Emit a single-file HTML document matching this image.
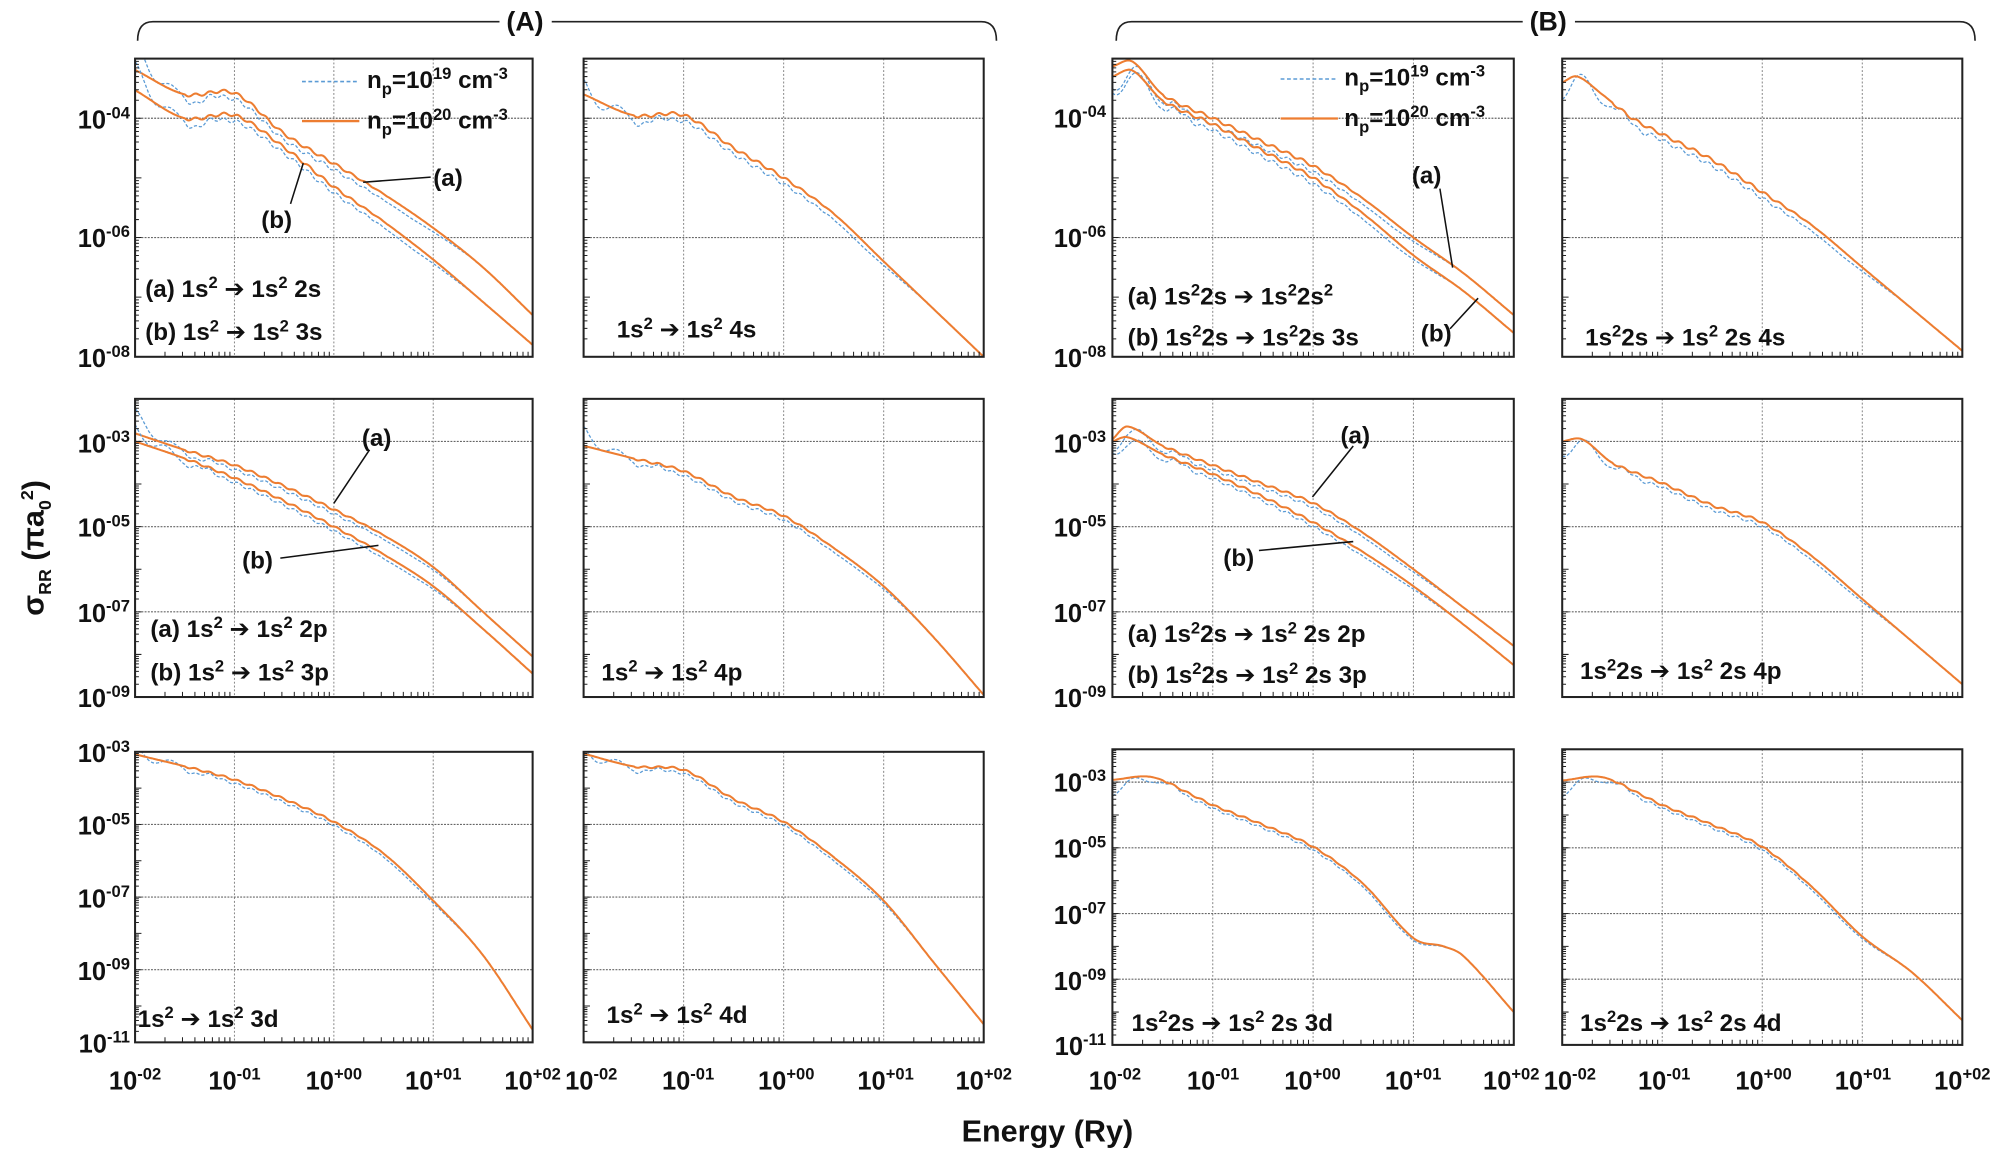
<!DOCTYPE html>
<html><head><meta charset="utf-8"><style>
html,body{margin:0;padding:0;background:#fff;}
svg{display:block;}
text{font-family:"Liberation Sans","DejaVu Sans",sans-serif;font-weight:bold;fill:#111;}
.t{font-size:19px;}
.yl{font-size:20px;text-anchor:end;}
.xl{font-size:20px;text-anchor:middle;}
.an{font-size:19px;}
.lg{font-size:19px;}
.s{font-size:13px;}
</style></head><body>
<svg id="s" width="1998" height="1155" viewBox="0 0 1568 906.4" preserveAspectRatio="none" xmlns="http://www.w3.org/2000/svg">
<g id="grid"></g>
<g id="curves"></g>
<g id="frames"></g>
<path d="M108,32 Q108,17 120,17 L392,17 M433,17 L770,17 Q782,17 782,32" fill="none" stroke="#222" stroke-width="1.3"/>
<text x="412" y="24" style="font-size:21px" text-anchor="middle">(A)</text>
<path d="M876,32 Q876,17 888,17 L1195,17 M1236,17 L1538,17 Q1550,17 1550,32" fill="none" stroke="#222" stroke-width="1.3"/>
<text x="1215" y="24" style="font-size:21px" text-anchor="middle">(B)</text>
<text x="822" y="896" style="font-size:24px" text-anchor="middle">Energy (Ry)</text>
<text transform="translate(34,430) rotate(-90)" style="font-size:24px" text-anchor="middle">σ<tspan dy="6" style="font-size:14px">RR</tspan><tspan dy="-6"> (πa</tspan><tspan dy="6" style="font-size:14px">0</tspan><tspan dy="-14" style="font-size:14px">2</tspan><tspan dy="8">)</tspan></text>
<line x1="237" y1="64" x2="282" y2="64" stroke="#5b9bd5" stroke-width="1.2" stroke-dasharray="3 2"/>
<text class="lg" x="288" y="69">n<tspan dy="5" class="s">p</tspan><tspan dy="-5">=10</tspan><tspan dy="-7" class="s">19</tspan><tspan dy="7"> cm</tspan><tspan dy="-7" class="s">-3</tspan></text>
<line x1="237" y1="95" x2="282" y2="95" stroke="#ed7d31" stroke-width="1.8"/>
<text class="lg" x="288" y="101">n<tspan dy="5" class="s">p</tspan><tspan dy="-5">=10</tspan><tspan dy="-7" class="s">20</tspan><tspan dy="7"> cm</tspan><tspan dy="-7" class="s">-3</tspan></text>
<line x1="1005" y1="62" x2="1050" y2="62" stroke="#5b9bd5" stroke-width="1.2" stroke-dasharray="3 2"/>
<text class="lg" x="1055" y="67">n<tspan dy="5" class="s">p</tspan><tspan dy="-5">=10</tspan><tspan dy="-7" class="s">19</tspan><tspan dy="7"> cm</tspan><tspan dy="-7" class="s">-3</tspan></text>
<line x1="1005" y1="93" x2="1050" y2="93" stroke="#ed7d31" stroke-width="1.8"/>
<text class="lg" x="1055" y="99">n<tspan dy="5" class="s">p</tspan><tspan dy="-5">=10</tspan><tspan dy="-7" class="s">20</tspan><tspan dy="7"> cm</tspan><tspan dy="-7" class="s">-3</tspan></text>
<g stroke="#111" stroke-width="1.2" fill="none">
<path d="M285,143 L338,139"/><path d="M228,160 L238,128"/>
<path d="M262,395 L290,353"/><path d="M220,438 L297,428"/>
<path d="M1130,148 L1140,210"/><path d="M1138,258 L1160,234"/>
<path d="M1030,390 L1062,350"/><path d="M988,432 L1062,425"/>
</g>
<text class="an" x="340" y="146">(a)</text><text class="an" x="205" y="179">(b)</text>
<text class="an" x="284" y="350">(a)</text><text class="an" x="190" y="446">(b)</text>
<text class="an" x="1108" y="144">(a)</text><text class="an" x="1115" y="268">(b)</text>
<text class="an" x="1052" y="348">(a)</text><text class="an" x="960" y="444">(b)</text>
<text class="t" x="114" y="233">(a) 1s<tspan dy="-7" class="s">2</tspan><tspan dy="7"> ➔ 1s</tspan><tspan dy="-7" class="s">2</tspan><tspan dy="7"> 2s</tspan></text>
<text class="t" x="114" y="267">(b) 1s<tspan dy="-7" class="s">2</tspan><tspan dy="7"> ➔ 1s</tspan><tspan dy="-7" class="s">2</tspan><tspan dy="7"> 3s</tspan></text>
<text class="t" x="484" y="265">1s<tspan dy="-7" class="s">2</tspan><tspan dy="7"> ➔ 1s</tspan><tspan dy="-7" class="s">2</tspan><tspan dy="7"> 4s</tspan></text>
<text class="t" x="118" y="500">(a) 1s<tspan dy="-7" class="s">2</tspan><tspan dy="7"> ➔ 1s</tspan><tspan dy="-7" class="s">2</tspan><tspan dy="7"> 2p</tspan></text>
<text class="t" x="118" y="534">(b) 1s<tspan dy="-7" class="s">2</tspan><tspan dy="7"> ➔ 1s</tspan><tspan dy="-7" class="s">2</tspan><tspan dy="7"> 3p</tspan></text>
<text class="t" x="472" y="534">1s<tspan dy="-7" class="s">2</tspan><tspan dy="7"> ➔ 1s</tspan><tspan dy="-7" class="s">2</tspan><tspan dy="7"> 4p</tspan></text>
<text class="t" x="108" y="806">1s<tspan dy="-7" class="s">2</tspan><tspan dy="7"> ➔ 1s</tspan><tspan dy="-7" class="s">2</tspan><tspan dy="7"> 3d</tspan></text>
<text class="t" x="476" y="803">1s<tspan dy="-7" class="s">2</tspan><tspan dy="7"> ➔ 1s</tspan><tspan dy="-7" class="s">2</tspan><tspan dy="7"> 4d</tspan></text>
<text class="t" x="885" y="239">(a) 1s<tspan dy="-7" class="s">2</tspan><tspan dy="7">2s ➔ 1s</tspan><tspan dy="-7" class="s">2</tspan><tspan dy="7">2s</tspan><tspan dy="-7" class="s">2</tspan></text>
<text class="t" x="885" y="271">(b) 1s<tspan dy="-7" class="s">2</tspan><tspan dy="7">2s ➔ 1s</tspan><tspan dy="-7" class="s">2</tspan><tspan dy="7">2s 3s</tspan></text>
<text class="t" x="1244" y="271">1s<tspan dy="-7" class="s">2</tspan><tspan dy="7">2s ➔ 1s</tspan><tspan dy="-7" class="s">2</tspan><tspan dy="7"> 2s 4s</tspan></text>
<text class="t" x="885" y="504">(a) 1s<tspan dy="-7" class="s">2</tspan><tspan dy="7">2s ➔ 1s</tspan><tspan dy="-7" class="s">2</tspan><tspan dy="7"> 2s 2p</tspan></text>
<text class="t" x="885" y="536">(b) 1s<tspan dy="-7" class="s">2</tspan><tspan dy="7">2s ➔ 1s</tspan><tspan dy="-7" class="s">2</tspan><tspan dy="7"> 2s 3p</tspan></text>
<text class="t" x="1240" y="533">1s<tspan dy="-7" class="s">2</tspan><tspan dy="7">2s ➔ 1s</tspan><tspan dy="-7" class="s">2</tspan><tspan dy="7"> 2s 4p</tspan></text>
<text class="t" x="888" y="809">1s<tspan dy="-7" class="s">2</tspan><tspan dy="7">2s ➔ 1s</tspan><tspan dy="-7" class="s">2</tspan><tspan dy="7"> 2s 3d</tspan></text>
<text class="t" x="1240" y="809">1s<tspan dy="-7" class="s">2</tspan><tspan dy="7">2s ➔ 1s</tspan><tspan dy="-7" class="s">2</tspan><tspan dy="7"> 2s 4d</tspan></text>
<g>
<text class="xl" x="106" y="855">10<tspan dy="-8" class="s">-02</tspan></text>
<text class="xl" x="184" y="855">10<tspan dy="-8" class="s">-01</tspan></text>
<text class="xl" x="262" y="855">10<tspan dy="-8" class="s">+00</tspan></text>
<text class="xl" x="340" y="855">10<tspan dy="-8" class="s">+01</tspan></text>
<text class="xl" x="418" y="855">10<tspan dy="-8" class="s">+02</tspan></text>
<text class="xl" x="464" y="855">10<tspan dy="-8" class="s">-02</tspan></text>
<text class="xl" x="540" y="855">10<tspan dy="-8" class="s">-01</tspan></text>
<text class="xl" x="617" y="855">10<tspan dy="-8" class="s">+00</tspan></text>
<text class="xl" x="695" y="855">10<tspan dy="-8" class="s">+01</tspan></text>
<text class="xl" x="772" y="855">10<tspan dy="-8" class="s">+02</tspan></text>
<text class="xl" x="875" y="855">10<tspan dy="-8" class="s">-02</tspan></text>
<text class="xl" x="952" y="855">10<tspan dy="-8" class="s">-01</tspan></text>
<text class="xl" x="1030" y="855">10<tspan dy="-8" class="s">+00</tspan></text>
<text class="xl" x="1109" y="855">10<tspan dy="-8" class="s">+01</tspan></text>
<text class="xl" x="1186" y="855">10<tspan dy="-8" class="s">+02</tspan></text>
<text class="xl" x="1232" y="855">10<tspan dy="-8" class="s">-02</tspan></text>
<text class="xl" x="1306" y="855">10<tspan dy="-8" class="s">-01</tspan></text>
<text class="xl" x="1384" y="855">10<tspan dy="-8" class="s">+00</tspan></text>
<text class="xl" x="1462" y="855">10<tspan dy="-8" class="s">+01</tspan></text>
<text class="xl" x="1540" y="855">10<tspan dy="-8" class="s">+02</tspan></text>
</g>
<g>
<text class="yl" x="102" y="101">10<tspan dy="-8" class="s">-04</tspan></text>
<text class="yl" x="102" y="194">10<tspan dy="-8" class="s">-06</tspan></text>
<text class="yl" x="102" y="288">10<tspan dy="-8" class="s">-08</tspan></text>
<text class="yl" x="102" y="355">10<tspan dy="-8" class="s">-03</tspan></text>
<text class="yl" x="102" y="421">10<tspan dy="-8" class="s">-05</tspan></text>
<text class="yl" x="102" y="488">10<tspan dy="-8" class="s">-07</tspan></text>
<text class="yl" x="102" y="555">10<tspan dy="-8" class="s">-09</tspan></text>
<text class="yl" x="102" y="598">10<tspan dy="-8" class="s">-03</tspan></text>
<text class="yl" x="102" y="655">10<tspan dy="-8" class="s">-05</tspan></text>
<text class="yl" x="102" y="712">10<tspan dy="-8" class="s">-07</tspan></text>
<text class="yl" x="102" y="769">10<tspan dy="-8" class="s">-09</tspan></text>
<text class="yl" x="102" y="826">10<tspan dy="-8" class="s">-11</tspan></text>
<text class="yl" x="868" y="100">10<tspan dy="-8" class="s">-04</tspan></text>
<text class="yl" x="868" y="194">10<tspan dy="-8" class="s">-06</tspan></text>
<text class="yl" x="868" y="288">10<tspan dy="-8" class="s">-08</tspan></text>
<text class="yl" x="868" y="355">10<tspan dy="-8" class="s">-03</tspan></text>
<text class="yl" x="868" y="421">10<tspan dy="-8" class="s">-05</tspan></text>
<text class="yl" x="868" y="488">10<tspan dy="-8" class="s">-07</tspan></text>
<text class="yl" x="868" y="555">10<tspan dy="-8" class="s">-09</tspan></text>
<text class="yl" x="868" y="621">10<tspan dy="-8" class="s">-03</tspan></text>
<text class="yl" x="868" y="673">10<tspan dy="-8" class="s">-05</tspan></text>
<text class="yl" x="868" y="725">10<tspan dy="-8" class="s">-07</tspan></text>
<text class="yl" x="868" y="777">10<tspan dy="-8" class="s">-09</tspan></text>
<text class="yl" x="868" y="828">10<tspan dy="-8" class="s">-11</tspan></text>
</g>
</svg>
<script>
(function(){
var NS="http://www.w3.org/2000/svg";
function el(p,n,a){var e=document.createElementNS(NS,n);for(var k in a)e.setAttribute(k,a[k]);p.appendChild(e);return e;}
var G=document.getElementById('grid'),C=document.getElementById('curves'),F=document.getElementById('frames');
var cols={A1:[106,418],A2:[458,772],B1:[873,1188],B2:[1226,1540]};
var rows={r1:[46,280,-3,-8,[-4,-6]],r2:[313,547,-2,-9,[-3,-5,-7]],r3A:[590,818,-3,-11,[-3,-5,-7,-9]],r3B:[588,820,-2,-11,[-3,-5,-7,-9]]};
function panel(c,r,curves){
 var p={x0:c[0],x1:c[1],y0:r[0],y1:r[1],top:r[2],bot:r[3]};
 function X(l){return p.x0+(l+2)/4*(p.x1-p.x0);}
 function Y(l){return p.y0+(p.top-l)/(p.top-p.bot)*(p.y1-p.y0);}
 for(var d=-1;d<=1;d++)el(G,'line',{x1:X(d),x2:X(d),y1:p.y0,y2:p.y1,stroke:'#888','stroke-width':0.8,'stroke-dasharray':'1.5 1.5'});
 r[4].forEach(function(l){el(G,'line',{x1:p.x0,x2:p.x1,y1:Y(l),y2:Y(l),stroke:'#666','stroke-width':0.9,'stroke-dasharray':'1.5 1'});});
 var t='';
 for(var d=-2;d<2;d++)for(var k=2;k<10;k++){var xx=X(d+Math.log10(k));t+='M'+xx+','+p.y1+'v-4';}
 for(var d=p.bot;d<p.top;d++)for(var k=2;k<10;k++){var yy=Y(d+Math.log10(k));t+='M'+p.x0+','+yy+'h3';}
 for(var d=p.bot;d<=p.top;d++){t+='M'+p.x0+','+Y(d)+'h5';}
 el(F,'path',{d:t,stroke:'#222','stroke-width':0.8,fill:'none'});
 el(F,'rect',{x:p.x0,y:p.y0,width:p.x1-p.x0,height:p.y1-p.y0,fill:'none',stroke:'#222','stroke-width':1.6});
 curves.forEach(function(cv){
  var pts=cv.p;
  function f(x){
   var i=0;while(i<pts.length-2&&x>pts[i+1][0])i++;
   var p0=pts[Math.max(i-1,0)],p1=pts[i],p2=pts[i+1],p3=pts[Math.min(i+2,pts.length-1)];
   var t=(x-p1[0])/(p2[0]-p1[0]);
   var m1=(p2[1]-p0[1])/(p2[0]-p0[0]||1)*(p2[0]-p1[0]),m2=(p3[1]-p1[1])/(p3[0]-p1[0]||1)*(p2[0]-p1[0]);
   var t2=t*t,t3=t2*t;
   return (2*t3-3*t2+1)*p1[1]+(t3-2*t2+t)*m1+(-2*t3+3*t2)*p2[1]+(t3-t2)*m2;
  }
  var o='',b='';
  var bs=cv.bs||0.3;
  for(var i=0;i<=400;i++){
   var x=-2+i/100, y=f(x);
   var wig=(x>-1.5&&x<0.6)?0.025*Math.sin(2*Math.PI*(x+2)*7)*(x<0?1:(0.6-x)/0.6):0;
   var yo=y+wig;
   var off=(x<-1.2)?0.1*(x+2)/0.8:(x<0.8?0.1:(x<1.4?0.1*(1.4-x)/0.6:0));
   var osc=0;
   if(x<-1.0){var a=(-1.0-x);osc=bs*Math.max(0,(-1.6-x)/0.4)+0.18*a*Math.cos(2*Math.PI*(x+2)/0.4+cv.ph);}
   var yb=y-off+osc+1.3*wig;
   o+=(i?'L':'M')+X(x).toFixed(1)+','+Y(Math.min(yo,p.top)).toFixed(1);
   b+=(i?'L':'M')+X(x).toFixed(1)+','+Y(Math.min(yb,p.top)).toFixed(1);
  }
  el(C,'path',{d:b,fill:'none',stroke:'#5b9bd5','stroke-width':1,'stroke-dasharray':'2.5 1.5'});
  el(C,'path',{d:o,fill:'none',stroke:'#ed7d31','stroke-width':1.6});
 });
}
panel(cols.A1,rows.r1,[
 {p:[[-2,-3.19],[-1.5,-3.6],[-1,-3.58],[-0.5,-4.26],[0,-4.76],[0.5,-5.27],[1,-5.84],[1.5,-6.5],[2,-7.3]],bs:0.35,ph:0},
 {p:[[-2,-3.53],[-1.5,-4.0],[-1,-3.95],[-0.5,-4.49],[0,-5.15],[0.5,-5.73],[1,-6.37],[1.5,-7.08],[2,-7.8]],bs:0.3,ph:0}]);
panel(cols.A2,rows.r1,[{p:[[-2,-3.6],[-1.5,-3.95],[-1,-3.95],[-0.5,-4.5],[0,-5.0],[0.5,-5.6],[1,-6.4],[1.5,-7.2],[2,-8.0]],bs:0.1,ph:0.5}]);
panel(cols.A1,rows.r2,[
 {p:[[-2,-2.81],[-1.5,-3.2],[-1,-3.56],[-0.5,-4.05],[0,-4.6],[0.5,-5.2],[1,-5.95],[1.5,-7.0],[2,-8.05]],bs:0.4,ph:0},
 {p:[[-2,-3.0],[-1.5,-3.4],[-1,-3.86],[-0.5,-4.4],[0,-5.0],[0.5,-5.65],[1,-6.4],[1.5,-7.4],[2,-8.45]],bs:0.3,ph:1}]);
panel(cols.A2,rows.r2,[{p:[[-2,-3.1],[-1.5,-3.4],[-1,-3.7],[-0.5,-4.3],[0,-4.75],[0.5,-5.5],[1,-6.4],[1.5,-7.6],[2,-8.95]],bs:0.3,ph:0.5}]);
panel(cols.A1,rows.r3A,[{p:[[-2,-3.07],[-1.5,-3.4],[-1,-3.77],[-0.5,-4.3],[0,-4.93],[0.5,-5.8],[1,-7.1],[1.5,-8.6],[2,-10.65]],bs:0.1,ph:0.3}]);
panel(cols.A2,rows.r3A,[{p:[[-2,-3.05],[-1.5,-3.4],[-1,-3.5],[-0.5,-4.3],[0,-4.93],[0.5,-5.9],[1,-7.1],[1.5,-8.8],[2,-10.5]],bs:0.05,ph:0.8}]);
panel(cols.B1,rows.r1,[
 {p:[[-2,-3.13],[-1.8,-3.05],[-1.5,-3.6],[-1,-4.0],[-0.5,-4.4],[0,-4.8],[0.5,-5.35],[1,-6.0],[1.5,-6.6],[2,-7.3]],bs:-0.3,ph:2},
 {p:[[-2,-3.3],[-1.8,-3.2],[-1.5,-3.7],[-1,-4.1],[-0.5,-4.55],[0,-5.0],[0.5,-5.6],[1,-6.3],[1.5,-6.9],[2,-7.6]],bs:-0.2,ph:2}]);
panel(cols.B2,rows.r1,[{p:[[-2,-3.4],[-1.85,-3.3],[-1.6,-3.6],[-1.3,-4.0],[-1,-4.27],[-0.5,-4.7],[0,-5.24],[0.5,-5.8],[1,-6.5],[1.5,-7.2],[2,-7.9]],bs:-0.1,ph:3}]);
panel(cols.B1,rows.r2,[
 {p:[[-2,-2.95],[-1.85,-2.65],[-1.5,-3.1],[-1,-3.56],[-0.5,-4.0],[0,-4.45],[0.5,-5.15],[1,-6.0],[1.5,-6.9],[2,-7.8]],bs:-0.2,ph:2},
 {p:[[-2,-3.0],[-1.85,-2.9],[-1.5,-3.3],[-1,-3.77],[-0.5,-4.3],[0,-4.9],[0.5,-5.6],[1,-6.4],[1.5,-7.3],[2,-8.25]],bs:-0.2,ph:2}]);
panel(cols.B2,rows.r2,[{p:[[-2,-3.0],[-1.8,-2.95],[-1.5,-3.5],[-1,-3.98],[-0.5,-4.5],[0,-4.9],[0.5,-5.7],[1,-6.7],[1.5,-7.7],[2,-8.7]],bs:-0.2,ph:2.5}]);
panel(cols.B1,rows.r3B,[{p:[[-2,-2.93],[-1.6,-2.85],[-1.2,-3.4],[-1,-3.7],[-0.5,-4.3],[0,-4.97],[0.5,-6.1],[1,-7.75],[1.3,-8.0],[1.5,-8.3],[2,-10.0]],bs:-0.3,ph:3}]);
panel(cols.B2,rows.r3B,[{p:[[-2,-2.95],[-1.6,-2.85],[-1.2,-3.4],[-1,-3.7],[-0.5,-4.3],[0,-4.97],[0.5,-6.2],[1,-7.7],[1.5,-8.8],[2,-10.25]],bs:-0.3,ph:3}]);
})();
</script>
</body></html>
